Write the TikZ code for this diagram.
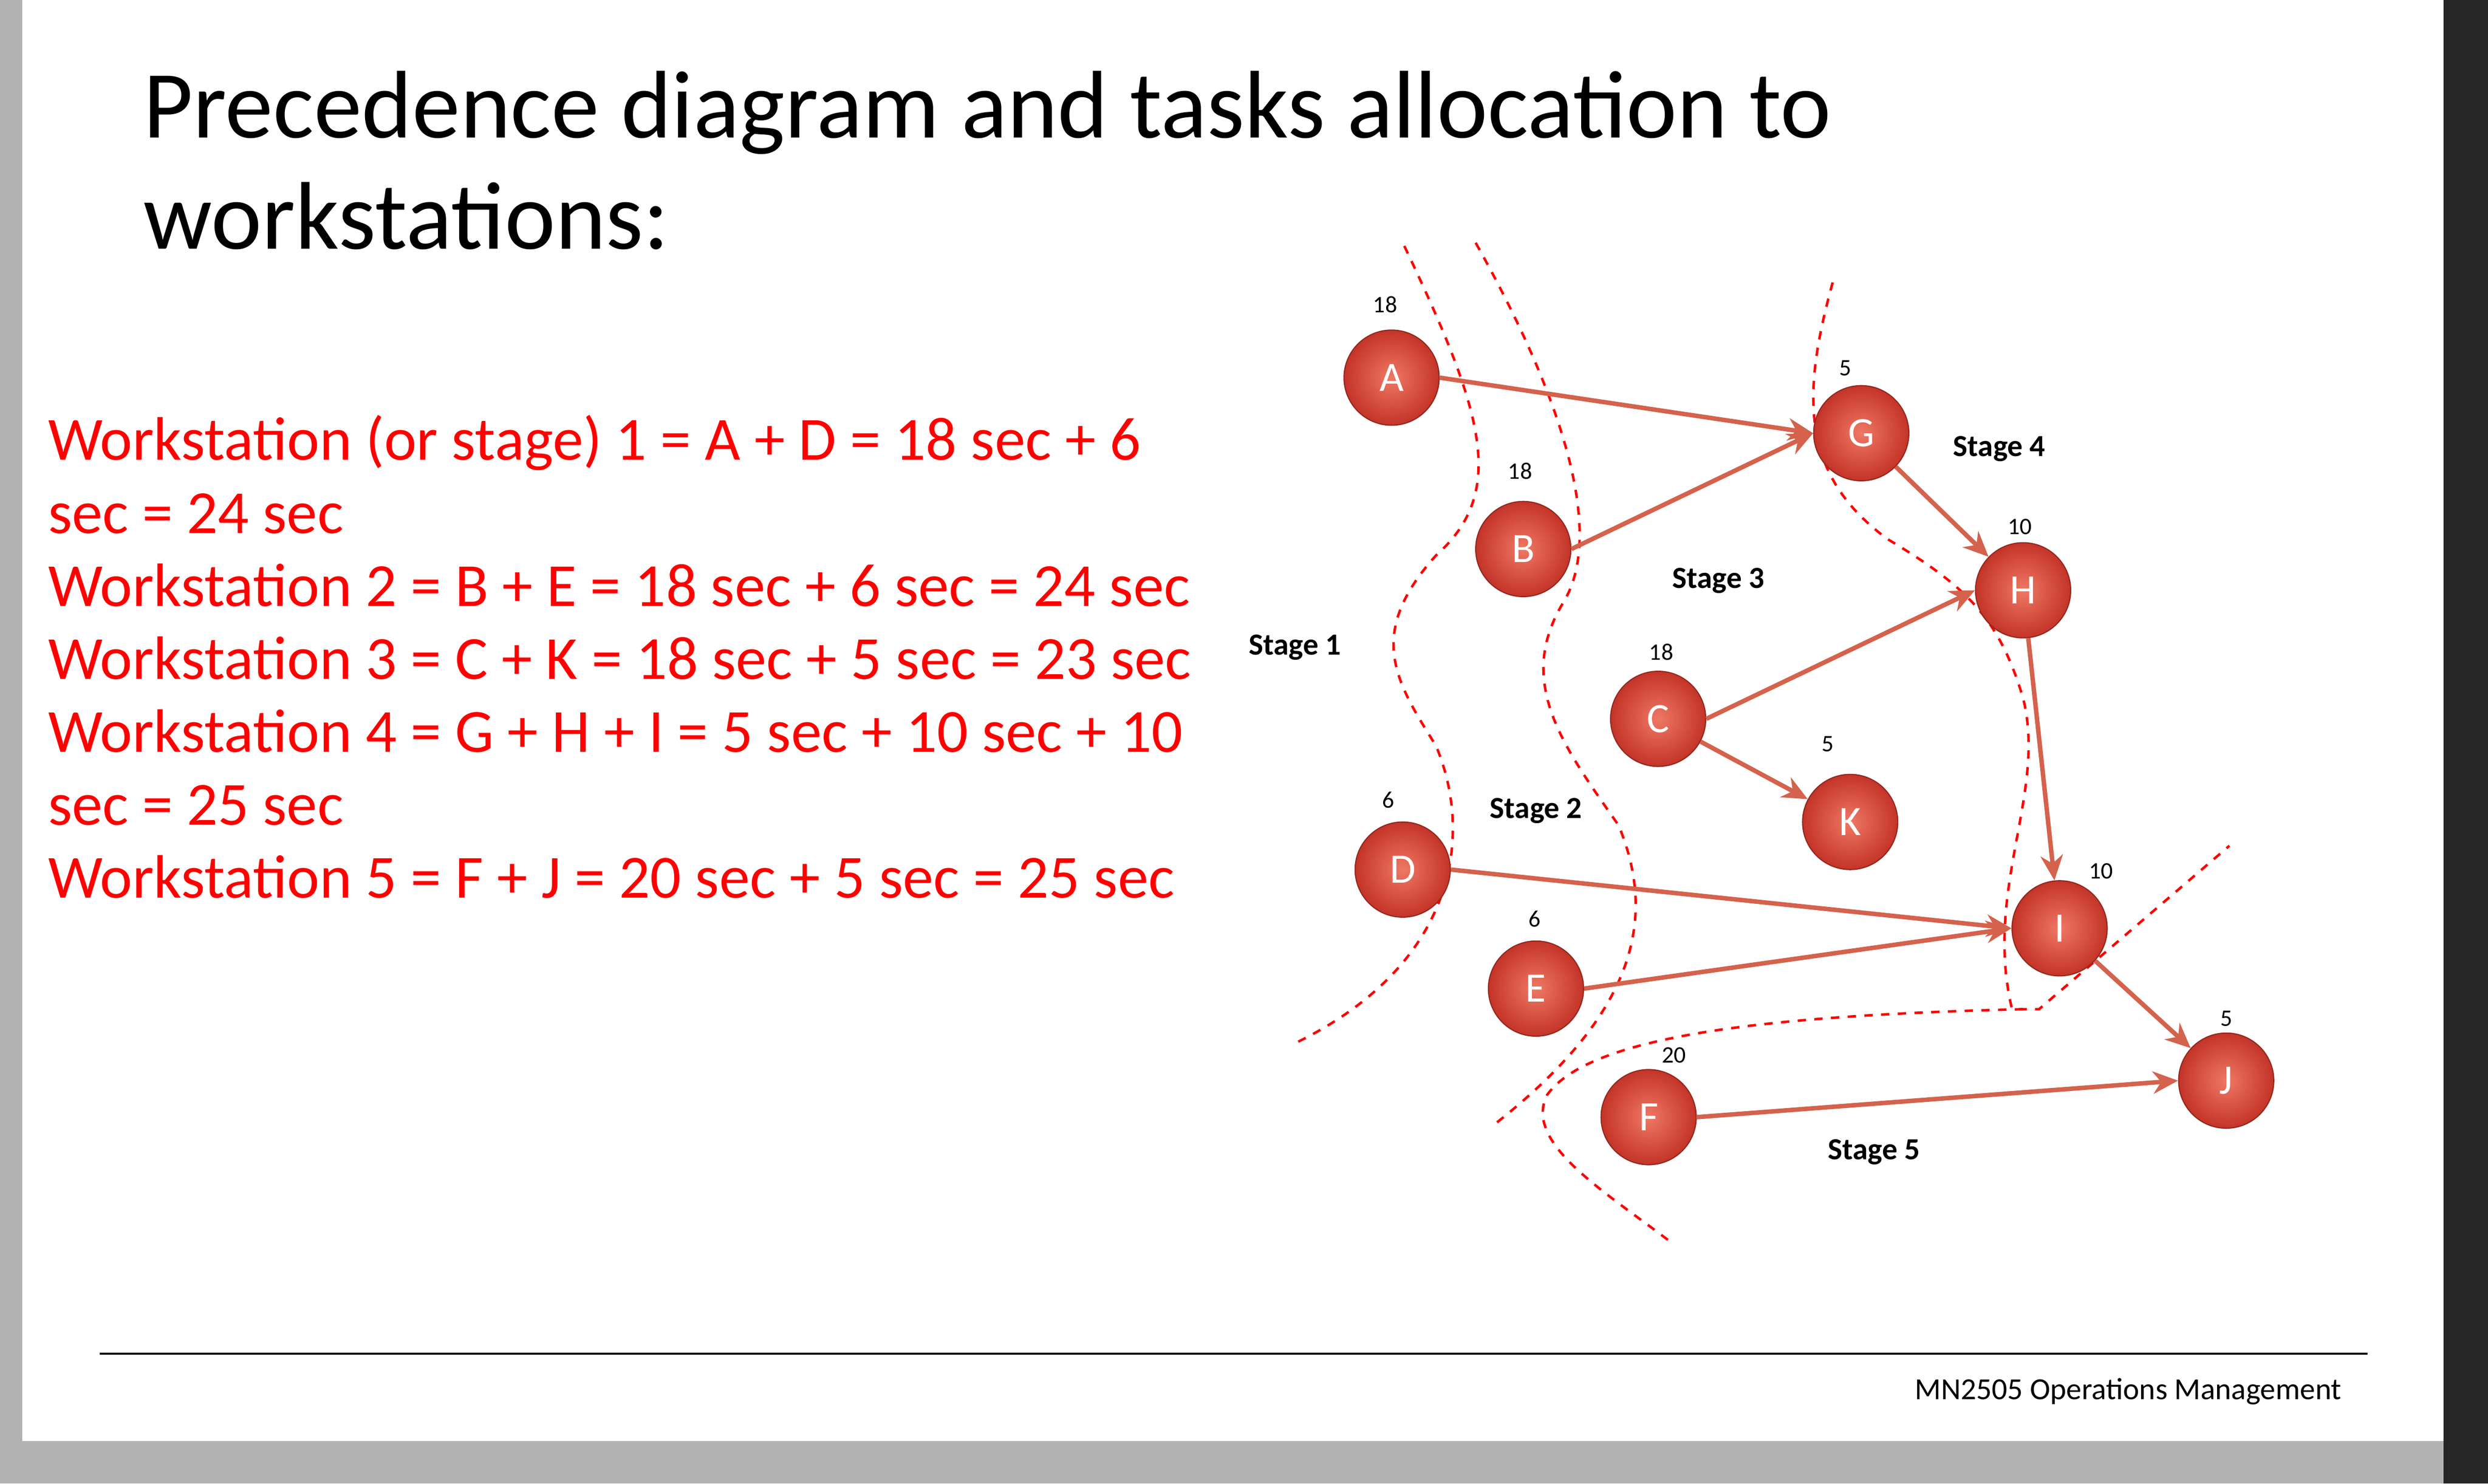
\documentclass[tikz,border=0pt]{standalone}
\usepackage{fontspec}
\setmainfont{Carlito}
\usetikzlibrary{arrows.meta}
\definecolor{edgec}{RGB}{212,98,76}
\definecolor{ballin}{RGB}{238,120,100}
\definecolor{ballout}{RGB}{196,52,40}
\tikzset{
 task/.style={circle,minimum size=1.2cm,inner color=ballin,outer color=ballout,draw=ballout!75!black,text=white,font=\fontsize{15}{15}\selectfont,inner sep=0pt},
 wt/.style={font=\fontsize{8.5}{9}\selectfont},
 stg/.style={font=\bfseries\fontsize{11}{12}\selectfont},
 arr/.style={draw=edgec,line width=1.6pt,-{Stealth[length=9pt,width=8pt]}},
 sep/.style={draw=red,dashed,line width=0.9pt},
 ws/.style={anchor=base west,text=red,font=\fontsize{22}{23}\selectfont,inner sep=0pt}
}
\begin{document}
\begin{tikzpicture}[x=0.02cm,y=-0.02cm]
\fill[gray!60] (0,0) rectangle (1568,935);
\fill[gray!30!black] (1540,0) rectangle (1568,935);
\fill[white] (14,0) rectangle (1540,908);
\node[anchor=base west,inner sep=0pt,font=\fontsize{34.5}{36}\selectfont] (t1) at (90,87) {Precedence diagram and tasks allocation to};
\node[anchor=base west,inner sep=0pt,font=\fontsize{34.5}{36}\selectfont] (t2) at (90,157) {workstations:};
\node[ws] (w1) at (30,290) {Workstation (or stage) 1 = A + D = 18 sec + 6};
\node[ws] (w2) at (30,336) {sec = 24 sec};
\node[ws] (w3) at (30,382) {Workstation 2 = B + E = 18 sec + 6 sec = 24 sec};
\node[ws] (w4) at (30,428) {Workstation 3 = C + K = 18 sec + 5 sec = 23 sec};
\node[ws] (w5) at (30,474) {Workstation 4 = G + H + I = 5 sec + 10 sec + 10};
\node[ws] (w6) at (30,520) {sec = 25 sec};
\node[ws] (w7) at (30,566) {Workstation 5 = F + J = 20 sec + 5 sec = 25 sec};
% separators
\draw[sep] (885,155) .. controls (935,260) and (950,310) .. (905,350) .. controls (860,400) and (880,430) .. (905,470) .. controls (930,530) and (915,610) .. (815,658);
\draw[sep] (930,153) .. controls (990,260) and (1010,340) .. (985,380) .. controls (955,430) and (985,470) .. (1020,520) .. controls (1045,580) and (1030,640) .. (940,710);
\draw[sep] (1155,178) .. controls (1135,250) and (1135,300) .. (1190,340) .. controls (1240,370) and (1260,390) .. (1275,440) .. controls (1290,500) and (1250,560) .. (1268,636) -- (1285,636) -- (1405,533);
\draw[sep] (1275,636) .. controls (1100,640) and (1000,655) .. (975,690) .. controls (960,720) and (1010,750) .. (1052,782);
% nodes
\node[task] (A) at (877,238) {A};
\node[task] (G) at (1173,273) {G};
\node[task] (B) at (960,346) {B};
\node[task] (H) at (1275,372) {H};
\node[task] (C) at (1045,453) {C};
\node[task] (K) at (1166,518) {K};
\node[task] (D) at (884,548) {D};
\node[task] (I) at (1298,585) {I};
\node[task] (E) at (968,623) {E};
\node[task] (J) at (1403,681) {J};
\node[task] (F) at (1039,704) {F};
\node[wt] (wA) at (873,192) {18};
\node[wt] (wG) at (1163,232) {5};
\node[wt] (wB) at (958,297) {18};
\node[wt] (wH) at (1273,332) {10};
\node[wt] (wC) at (1047,411) {18};
\node[wt] (wK) at (1152,469) {5};
\node[wt] (wD) at (875,504) {6};
\node[wt] (wI) at (1324,549) {10};
\node[wt] (wE) at (967,579) {6};
\node[wt] (wJ) at (1403,642) {5};
\node[wt] (wF) at (1055,665) {20};
\node[stg] (s1) at (816,408) {Stage 1};
\node[stg] (s2) at (968,511) {Stage 2};
\node[stg] (s3) at (1083,366) {Stage 3};
\node[stg] (s4) at (1260,283) {Stage 4};
\node[stg] (s5) at (1181,726) {Stage 5};
% edges
\draw[arr] (A.east) -- (G.west);
\draw[arr] (B.east) -- (G.west);
\draw[arr] (G) -- (H);
\draw[arr] (C.east) -- (H.west);
\draw[arr] (C) -- (K);
\draw[arr] (H) -- (I);
\draw[arr] (D.east) -- (I.west);
\draw[arr] (E.east) -- (I.west);
\draw[arr] (I) -- (J);
\draw[arr] (F.east) -- (J.west);
% footer
\draw[line width=0.8pt] (63,853) coordinate (r1) -- (1492,853) coordinate (r2);
\node[anchor=base east,inner sep=0pt,font=\fontsize{11}{12}\selectfont] (ft) at (1476,882) {MN2505 Operations Management};
\end{tikzpicture}
\end{document}
